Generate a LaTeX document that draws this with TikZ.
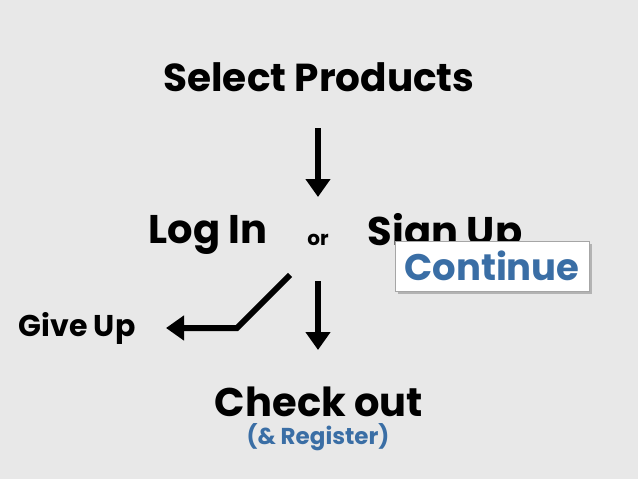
\documentclass[tikz,border=0pt]{standalone}
\usepackage{fontspec}
\setmainfont{Poppins}
\usetikzlibrary{arrows.meta,shadows}
\definecolor{bg}{HTML}{E8E8E8}
\definecolor{blu}{HTML}{3A6EA5}
\tikzset{
  lbl/.style={font=\fontsize{#1}{#1}\selectfont\bfseries, inner sep=0pt, text=black},
  arr/.style={line width=6pt, -{Triangle[length=18pt,width=24pt]}}
}
\begin{document}
\begin{tikzpicture}[x=1pt,y=-1pt]
\fill[bg] (0,0) rectangle (638,479);
\useasboundingbox (0,0) rectangle (638,479);
\node[lbl=39] (sel) at (319,77) {Select Products};
\node[lbl=40] (log) at (208,235) {Log In};
\node[lbl=20] (or) at (318,240) {or};
\node[lbl=40] (sign) at (445,235) {Sign Up};
\node[draw=gray!70, fill=white, drop shadow={opacity=0.5}, font=\fontsize{37}{37}\selectfont\bfseries, text=blu, minimum width=194pt, minimum height=50pt, inner sep=0pt] (cont) at (492,266) {Continue};
\node[lbl=30] (give) at (77,328) {Give Up};
\node[lbl=40] (chk) at (319,402) {Check out};
\node[lbl=23, text=blu] (reg) at (318,437) {(\& Register)};
\coordinate (a1) at (318,128);
\coordinate (a2) at (318,197);
\coordinate (b1) at (318,281);
\coordinate (b2) at (318,350);
\coordinate (g1) at (290,275);
\coordinate (g2) at (237,328);
\coordinate (g3) at (166,328);
\draw[arr] (a1) -- (a2);
\draw[arr] (b1) -- (b2);
\draw[arr, line join=miter] (g1) -- (g2) -- (g3);
\end{tikzpicture}
\end{document}
